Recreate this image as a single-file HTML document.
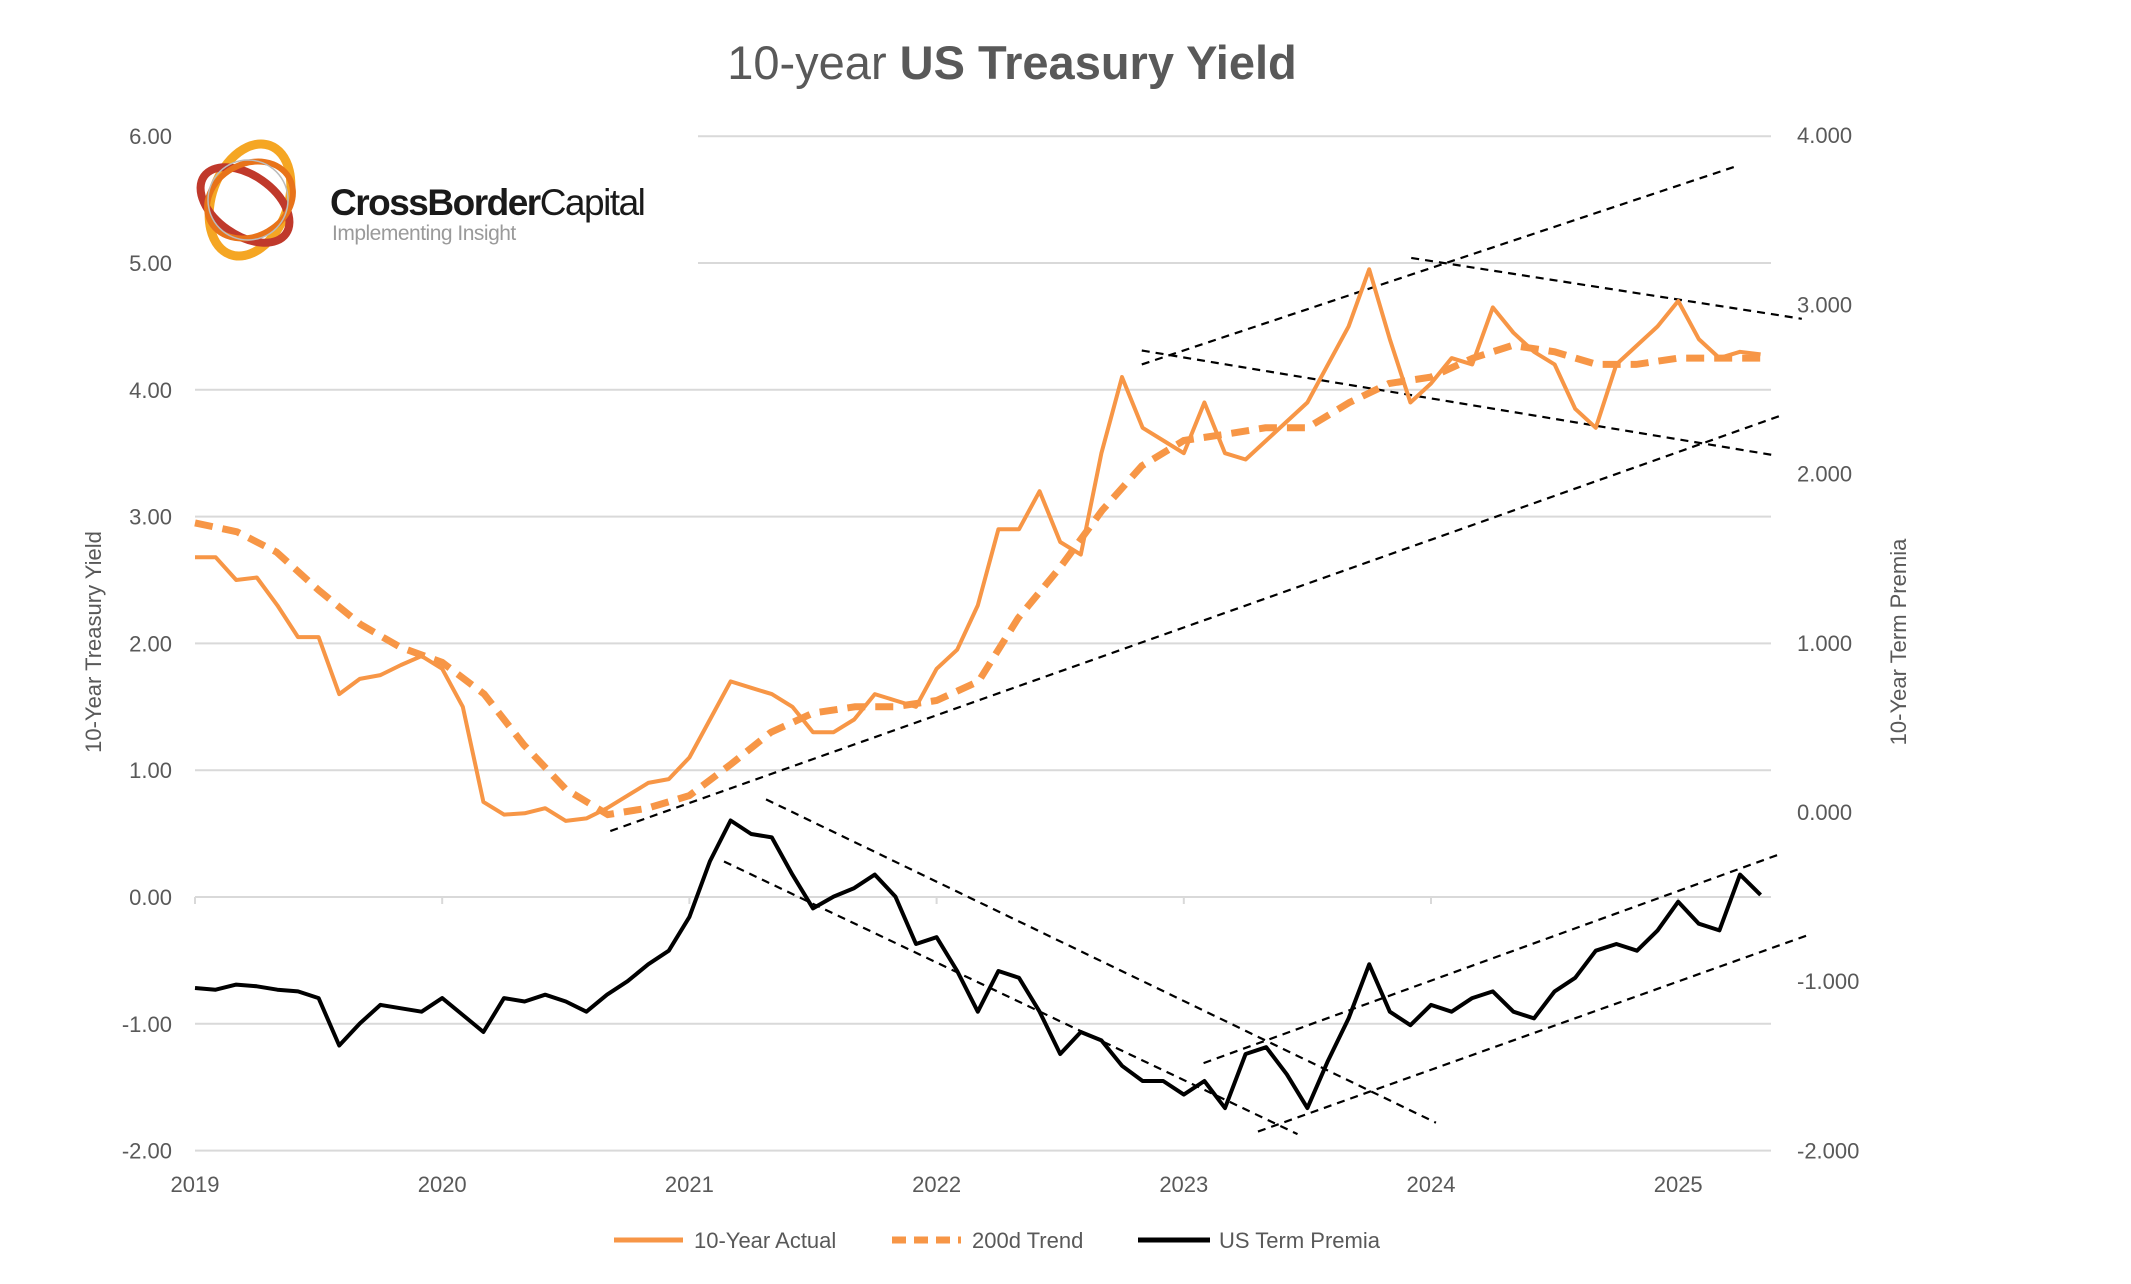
<!DOCTYPE html>
<html><head><meta charset="utf-8"><style>
body{margin:0;background:#fff;width:2131px;height:1279px;overflow:hidden;font-family:"Liberation Sans",sans-serif}
svg text{font-family:"Liberation Sans",sans-serif}
</style></head><body>
<svg id="chart" width="2131" height="1279" viewBox="0 0 2131 1279" xmlns="http://www.w3.org/2000/svg">
<text x="1012" y="79" text-anchor="middle" font-size="47" fill="#595959">10-year <tspan font-weight="bold">US Treasury Yield</tspan></text>
<g id="grid"></g>
<g id="axes"></g>
<g>
 <ellipse cx="250" cy="200" rx="38" ry="58" transform="rotate(20 250 200)" fill="none" stroke="#f5a623" stroke-width="9"/>
 <ellipse cx="245" cy="205" rx="50" ry="30" transform="rotate(35 245 205)" fill="none" stroke="#c0392b" stroke-width="8"/>
 <ellipse cx="250" cy="200" rx="45" ry="36" transform="rotate(-30 250 200)" fill="none" stroke="#e8731a" stroke-width="6"/>
 <ellipse cx="248" cy="200" rx="40" ry="40" fill="none" stroke="#bbb" stroke-width="1.5"/>
 <text x="330" y="215" font-size="37" fill="#1a1a1a" letter-spacing="-1.5"><tspan font-weight="bold">CrossBorder</tspan>Capital</text>
 <text x="332" y="240" font-size="21" fill="#9a9a9a" letter-spacing="-0.5">Implementing Insight</text>
</g>
<g id="annot"></g>
<g id="series"></g>
<text transform="translate(101 642) rotate(-90)" text-anchor="middle" font-size="22" fill="#595959">10-Year Treasury Yield</text>
<text transform="translate(1906 642) rotate(-90)" text-anchor="middle" font-size="22" fill="#595959">10-Year Term Premia</text>
<g>
 <g><line x1="614" y1="1240" x2="683" y2="1240" stroke="#F79646" stroke-width="5"/><text x="694" y="1248" font-size="22" fill="#595959">10-Year Actual</text></g>
 <g><line x1="892" y1="1240" x2="961" y2="1240" stroke="#F79646" stroke-width="7" stroke-dasharray="14 8"/><text x="972" y="1248" font-size="22" fill="#595959">200d Trend</text></g>
 <g><line x1="1138" y1="1240" x2="1210" y2="1240" stroke="#000" stroke-width="5"/><text x="1219" y="1248" font-size="22" fill="#595959">US Term Premia</text></g>
</g>
</svg>
<script>
const leftTicks=[6,5,4,3,2,1,0,-1,-2];
const rightTicks=[4,3,2,1,0,-1,-2];
const yearTicks=[2019,2020,2021,2022,2023,2024,2025];
const actualYield=[2.68,2.68,2.5,2.52,2.3,2.05,2.05,1.6,1.72,1.75,1.83,1.9,
1.8,1.5,0.75,0.65,0.66,0.7,0.6,0.62,0.7,0.8,0.9,0.93,
1.1,1.4,1.7,1.65,1.6,1.5,1.3,1.3,1.4,1.6,1.55,1.5,
1.8,1.95,2.3,2.9,2.9,3.2,2.8,2.7,3.5,4.1,3.7,3.6,
3.5,3.9,3.5,3.45,3.6,3.75,3.9,4.2,4.5,4.95,4.4,3.9,
4.05,4.25,4.2,4.65,4.45,4.3,4.2,3.85,3.7,4.2,4.35,4.5,
4.7,4.4,4.25,4.3,4.28];
const trendYears=[2019,2019.17,2019.33,2019.5,2019.67,2019.83,2020,2020.17,2020.33,2020.5,2020.67,2020.83,2021,2021.17,2021.33,2021.5,2021.67,2021.83,2022,2022.17,2022.33,2022.5,2022.67,2022.83,2023,2023.17,2023.33,2023.5,2023.67,2023.83,2024,2024.17,2024.33,2024.5,2024.67,2024.83,2025,2025.17,2025.35];
const trendYield=[2.95,2.88,2.72,2.42,2.15,1.97,1.85,1.6,1.2,0.85,0.65,0.7,0.8,1.05,1.3,1.45,1.5,1.5,1.55,1.7,2.2,2.6,3.05,3.4,3.6,3.65,3.7,3.7,3.9,4.05,4.1,4.25,4.35,4.3,4.2,4.2,4.25,4.25,4.25];
const termPremia=[-1.04,-1.05,-1.02,-1.03,-1.05,-1.06,-1.1,-1.38,-1.25,-1.14,-1.16,-1.18,
-1.1,-1.2,-1.3,-1.1,-1.12,-1.08,-1.12,-1.18,-1.08,-1.0,-0.9,-0.82,
-0.62,-0.29,-0.05,-0.13,-0.15,-0.37,-0.57,-0.5,-0.45,-0.37,-0.5,-0.78,
-0.74,-0.94,-1.18,-0.94,-0.98,-1.18,-1.43,-1.3,-1.35,-1.5,-1.59,-1.59,
-1.67,-1.59,-1.75,-1.43,-1.39,-1.55,-1.75,-1.47,-1.22,-0.9,-1.18,-1.26,
-1.14,-1.18,-1.1,-1.06,-1.18,-1.22,-1.06,-0.98,-0.82,-0.78,-0.82,-0.7,
-0.53,-0.66,-0.7,-0.37,-0.49];
const trendLineStarts=[[2020.68,0.52],[2022.83,4.2],[2022.83,4.31],[2023.92,5.04],[2021.31,0.77],[2021.14,0.28],[2023.08,-1.31],[2023.30,-1.85]];
const trendLineEnds=[[2025.42,3.80],[2025.23,5.76],[2025.40,3.48],[2025.50,4.56],[2024.02,-1.78],[2023.46,-1.87],[2025.40,0.33],[2025.54,-0.29]];

const NS="http://www.w3.org/2000/svg";
const X0=195,X1=1771;
function x(yr){return X0+(yr-2019)*247.2;}
function yL(v){return 897-v*126.8;}
function yR(v){return 812-v*169.2;}
function mk(tag,attrs,parent){const e=document.createElementNS(NS,tag);for(const k in attrs)e.setAttribute(k,attrs[k]);parent.appendChild(e);return e;}
const grid=document.getElementById('grid'),axes=document.getElementById('axes'),series=document.getElementById('series'),annot=document.getElementById('annot');
leftTicks.forEach(v=>{
  const gl=mk('line',{x1:v>=5?698:X0,x2:X1,y1:yL(v),y2:yL(v),stroke:'#d9d9d9','stroke-width':2},grid);
  
  
  const t=mk('text',{x:172,y:yL(v)+8,'text-anchor':'end','font-size':22,fill:'#595959'},axes);
  t.textContent=v.toFixed(2);
  
  
});
rightTicks.forEach(v=>{
  const t=mk('text',{x:1797,y:yR(v)+8,'font-size':22,fill:'#595959'},axes);
  t.textContent=v.toFixed(3);
  
  
});
yearTicks.forEach(yr=>{
  const tk=mk('line',{x1:x(yr),x2:x(yr),y1:yL(0),y2:yL(0)+7,stroke:'#d9d9d9','stroke-width':2},axes);
  
  
  const t=mk('text',{x:x(yr),y:1192,'text-anchor':'middle','font-size':22,fill:'#595959'},axes);
  t.textContent=yr;
  
  
});
trendLineStarts.forEach((s,i)=>{
  const e=trendLineEnds[i];
  const l=mk('line',{x1:x(s[0]),y1:yL(s[1]),x2:x(e[0]),y2:yL(e[1]),stroke:'#000','stroke-width':2.2,'stroke-dasharray':'8 6'},annot);
  
  
});
function monthly(arr,fy){return arr.map((v,i)=>[x(2019+i/12),fy(v)]);}
function pathD(pts){return pts.map((p,i)=>(i?'L':'M')+p[0].toFixed(1)+' '+p[1].toFixed(1)).join(' ');}
const trendPts=trendYield.map((v,i)=>[x(trendYears[i]),yL(v)]);
const tr=mk('path',{d:pathD(trendPts),fill:'none',stroke:'#F79646','stroke-width':7,'stroke-dasharray':'18 10'},series);


const ac=mk('path',{d:pathD(monthly(actualYield,yL)),fill:'none',stroke:'#F79646','stroke-width':4,'stroke-linejoin':'round'},series);


const tp=mk('path',{d:pathD(monthly(termPremia,yR)),fill:'none',stroke:'#000','stroke-width':4,'stroke-linejoin':'round'},series);


</script>
</body></html>
